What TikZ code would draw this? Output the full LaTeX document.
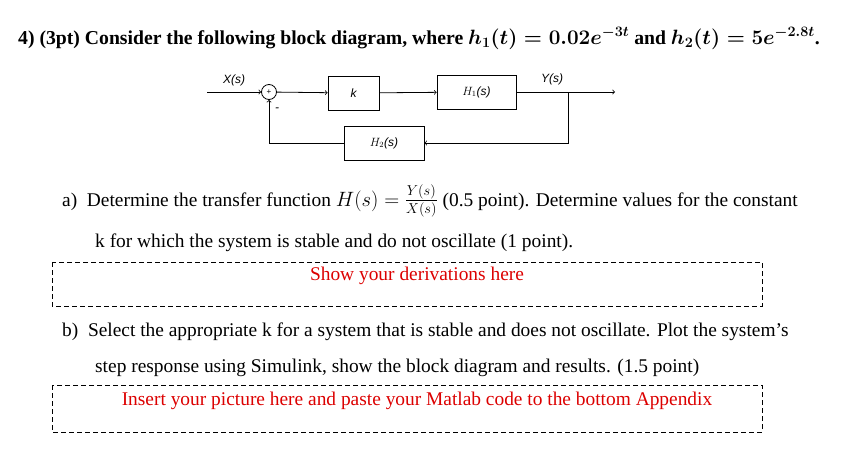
\documentclass[tikz,border=0pt]{standalone}
\usepackage{amsmath}
\usepackage{fontspec}
\setmainfont{Liberation Serif}
\newfontfamily\diagfont{Liberation Sans}
\usetikzlibrary{positioning}
\definecolor{noteRed}{RGB}{220,0,0}
\tikzset{
  block/.style={draw,thick,minimum height=34pt,inner sep=0pt,font=\diagfont\itshape\fontsize{12}{14}\selectfont},
  sig/.style={font=\diagfont\itshape\fontsize{12}{14}\selectfont},
  txt/.style={anchor=base west,inner sep=0pt,font=\fontsize{19.4}{22}\selectfont},
  note/.style={anchor=base,inner sep=0pt,text=noteRed,font=\fontsize{19.4}{22}\selectfont},
  dashbox/.style={draw,thick,dash pattern=on 5pt off 3pt}
}
\begin{document}
\begin{tikzpicture}[x=1pt,y=-1pt]
  \useasboundingbox (0,0) rectangle (847,461);
  % Question header
  \node (title) [txt,font=\bfseries\fontsize{19.7}{22}\selectfont] at (18,44)
    {4) (3pt) Consider the following block diagram, where $\boldsymbol{h_1(t)=0.02e^{-3t}}$ \textbf{and} $\boldsymbol{h_2(t)=5e^{-2.8t}}$.};

  % Blocks
  \node (sum) [draw,circle,thick,minimum size=15pt,inner sep=0pt,font=\diagfont\fontsize{8}{9}\selectfont] at (269,92) {+};
  \node (k) [block,minimum width=51pt] at (353.5,93) {k};
  \node (H1) [block,minimum width=79pt] at (476.5,92) {$H_1$(s)};
  \node (H2) [block,minimum width=80pt] at (384,143) {$H_2$(s)};
  \coordinate (in) at (207,92);
  \coordinate (branch) at (568,92);
  \coordinate (out) at (615,92);

  % Signal labels
  \node [sig] at (234,80) {X(s)};
  \node [sig] at (552,79) {Y(s)};
  \node [sig] at (277,110) {-};

  % Connectors
  \draw [thick,->] (in) -- (sum);
  \draw [thick,->] (sum) -- (k);
  \draw [thick,->] (k) -- (H1);
  \draw [thick,->] (H1) -- (out);
  \draw [thick,->] (branch) |- (H2);
  \draw [thick,->] (H2) -| (sum);

  % Part a
  \node (pa) [txt] at (62,206) {a)\enspace Determine the transfer function $H(s)=\frac{Y(s)}{X(s)}$ (0.5 point). Determine values for the constant};
  \node (pa2) [txt] at (95,247) {k for which the system is stable and do not oscillate (1 point).};
  \draw [dashbox] (52,262) rectangle (762,306);
  \node (na) [note] at (417,280) {Show your derivations here};

  % Part b
  \node (pb) [txt] at (62,336) {b)\enspace Select the appropriate k for a system that is stable and does not oscillate. Plot the system's};
  \node (pb2) [txt] at (95,372) {step response using Simulink, show the block diagram and results. (1.5 point)};
  \draw [dashbox] (52,385) rectangle (762,432);
  \node (nb) [note] at (417,405) {Insert your picture here and paste your Matlab code to the bottom Appendix};
\end{tikzpicture}
\end{document}
